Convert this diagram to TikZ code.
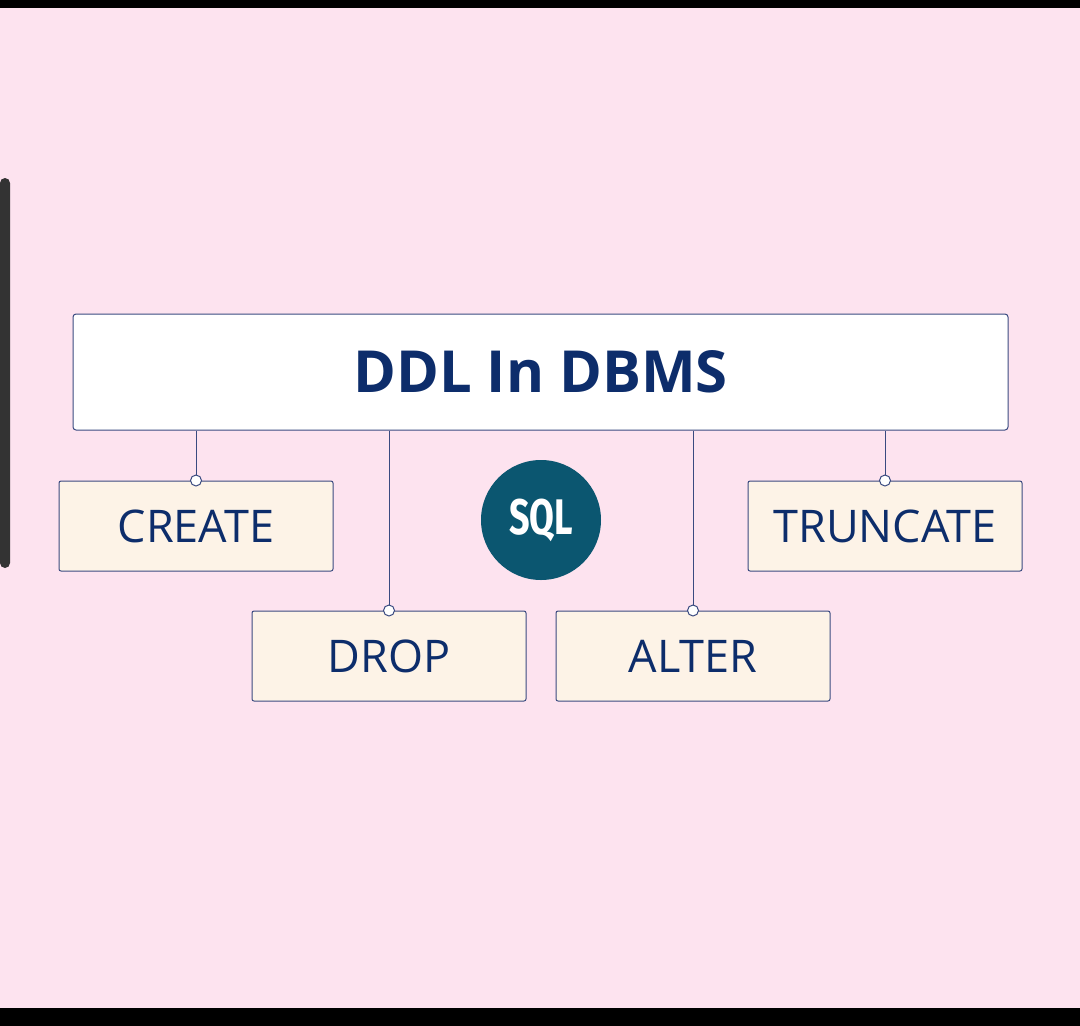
\documentclass[tikz,border=0pt]{standalone}
\usepackage{fontspec}
\setmainfont{Open Sans}
\newfontfamily\sqlfont{Fira Sans}
\definecolor{bg}{HTML}{FDE3EF}
\definecolor{navy}{HTML}{0D2D6B}
\definecolor{cream}{HTML}{FDF3E7}
\definecolor{teal}{HTML}{0B5670}
\definecolor{edge}{HTML}{3A4A80}
\begin{document}
\begin{tikzpicture}[x=1pt,y=-1pt,
  cmd/.style={draw=edge,line width=1pt,fill=cream,rounded corners=2pt,minimum width=274pt,minimum height=90pt,inner sep=0pt,font=\fontsize{45}{50}\selectfont,text=navy},
  conn/.style={draw=edge,line width=1pt},
  dot/.style={circle,draw=edge,fill=white,line width=1pt,inner sep=0pt,minimum size=11pt}]
\useasboundingbox (0,0) rectangle (1080,1026);
\fill[black] (0,0) rectangle (1080,1026);
\fill[bg] (0,8) rectangle (1080,1008);
\fill[black!60!gray,rounded corners=5pt] (0,178) rectangle (10,568);
\node[draw=edge,line width=1pt,fill=white,rounded corners=3pt,minimum width=935pt,minimum height=116pt,inner sep=0pt,font=\fontsize{58}{62}\selectfont\bfseries,text=navy] (title) at (540.5,372) {DDL In DBMS};
\node[cmd] (create) at (196,526) {CREATE};
\node[cmd] (drop) at (389,656) {DROP};
\node[cmd] (alter) at (693,656) {ALTER};
\node[cmd] (trunc) at (885,526) {TRUNCATE};
\node[circle,fill=teal,minimum size=120pt,inner sep=0pt,text=white,font=\sqlfont\bfseries\fontsize{50}{54}\selectfont] (sql) at (541,520) {\scalebox{0.72}[1]{SQL}};
\foreach \b in {create,drop,alter,trunc}{
  \draw[conn] (title.south -| \b.north) -- (\b.north);
  \node[dot] at (\b.north) {};
}
\end{tikzpicture}
\end{document}
